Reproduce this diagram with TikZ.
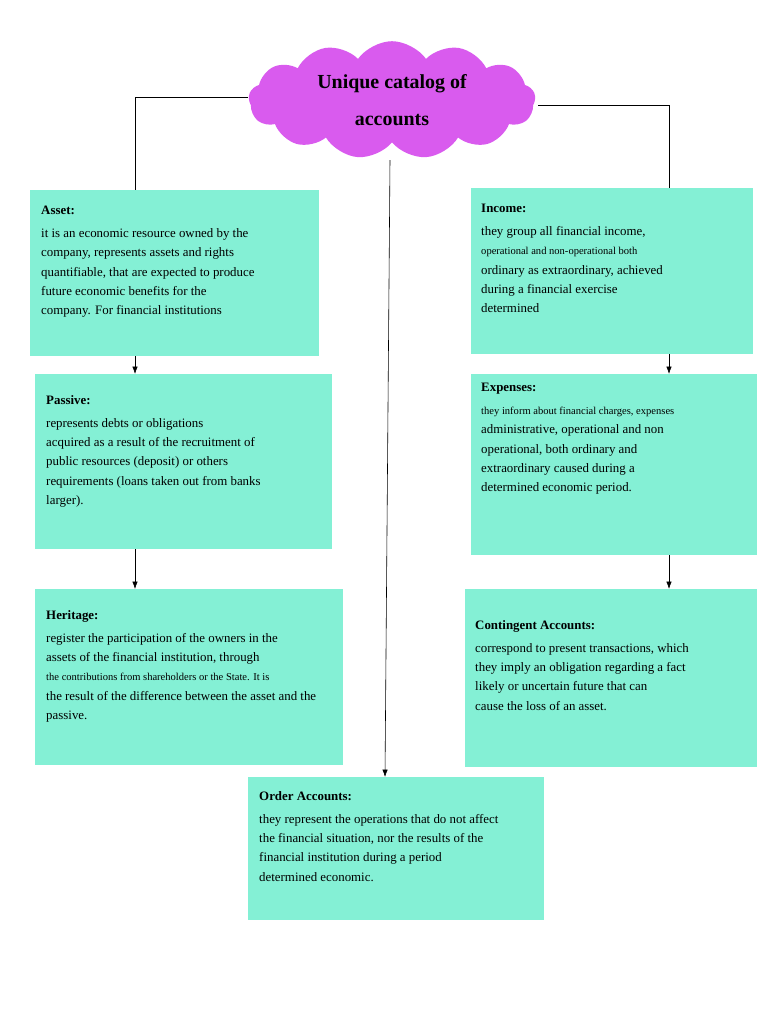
\documentclass[tikz,border=0pt]{standalone}
\usepackage{fontspec}
\setmainfont{Liberation Serif}
\usetikzlibrary{shapes.symbols}
\usetikzlibrary{arrows.meta}
\usetikzlibrary{calc}

\tikzset{
  box/.style={rectangle,fill=boxgreen,anchor=north west,inner sep=0pt},
  txt/.style={anchor=north west,align=left,inner sep=0pt,font=\fontsize{11}{16.5}\selectfont},
  link/.style={draw=black,line width=0.5pt},
  arr/.style={link,-{Latex[length=2.2mm,width=1.6mm]}}
}
\definecolor{boxgreen}{HTML}{84F0D5}
\definecolor{cloudpink}{HTML}{D95BEE}

\begin{document}
\begin{tikzpicture}[x=0.03cm,y=-0.03cm]
\useasboundingbox (0,0) rectangle (768,1024);
% title cloud
\node (cat) [cloud,cloud puffs=13,cloud puff arc=110,aspect=2.4,fill=cloudpink,minimum width=8.6cm,minimum height=3.5cm,align=center,font=\fontsize{17}{31}\selectfont\bfseries] at (392,100) {Unique catalog of\\accounts};
% boxes
\node (asset) [box,minimum width=8.67cm,minimum height=4.98cm] at (30,190) {};
\node (passive) [box,minimum width=8.91cm,minimum height=5.25cm] at (35,374) {};
\node (heritage) [box,minimum width=9.24cm,minimum height=5.28cm] at (35,589) {};
\node (income) [box,minimum width=8.46cm,minimum height=4.98cm] at (471,188) {};
\node (expenses) [box,minimum width=8.58cm,minimum height=5.43cm] at (471,374) {};
\node (contingent) [box,minimum width=8.76cm,minimum height=5.34cm] at (465,589) {};
\node (order) [box,minimum width=8.88cm,minimum height=4.29cm] at (248,777) {};
% texts
\node (asset-t) [txt] at (41,206) {\textbf{Asset:}\\[3pt]it is an economic resource owned by the\\company, represents assets and rights\\quantifiable, that are expected to produce\\future economic benefits for the\\company. For financial institutions};
\node (passive-t) [txt] at (46,395) {\textbf{Passive:}\\[3pt]represents debts or obligations\\acquired as a result of the recruitment of\\public resources (deposit) or others\\requirements (loans taken out from banks\\larger).};
\node (heritage-t) [txt] at (46,610) {\textbf{Heritage:}\\[3pt]register the participation of the owners in the\\assets of the financial institution, through\\{\small the contributions from shareholders or the State. It is}\\the result of the difference between the asset and the\\passive.};
\node (income-t) [txt] at (481,204) {\textbf{Income:}\\[3pt]they group all financial income,\\{\small operational and non-operational both}\\ordinary as extraordinary, achieved\\during a financial exercise\\determined};
\node (expenses-t) [txt] at (481,383) {\textbf{Expenses:}\\[3pt]{\small they inform about financial charges, expenses}\\administrative, operational and non\\operational, both ordinary and\\extraordinary caused during a\\determined economic period.};
\node (contingent-t) [txt] at (475,620) {\textbf{Contingent Accounts:}\\[3pt]correspond to present transactions, which\\they imply an obligation regarding a fact\\likely or uncertain future that can\\cause the loss of an asset.};
\node (order-t) [txt] at (259,791) {\textbf{Order Accounts:}\\[3pt]they represent the operations that do not affect\\the financial situation, nor the results of the\\financial institution during a period\\determined economic.};
% connectors
\coordinate (cl) at (248,97);
\coordinate (cr) at (538,105);
\coordinate (cb) at (390,160);
\coordinate (xl) at (135,0);
\coordinate (xr) at (669,0);
\coordinate (xm) at (385,0);
\draw[link] (cl) -| (xl |- asset.north);
\draw[link] (cr) -| (xr |- income.north);
\draw[arr] (cb) -- (xm |- order.north);
\draw[arr] (xl |- asset.south) -- (xl |- passive.north);
\draw[arr] (xl |- passive.south) -- (xl |- heritage.north);
\draw[arr] (xr |- income.south) -- (xr |- expenses.north);
\draw[arr] (xr |- expenses.south) -- (xr |- contingent.north);
\end{tikzpicture}
\end{document}
